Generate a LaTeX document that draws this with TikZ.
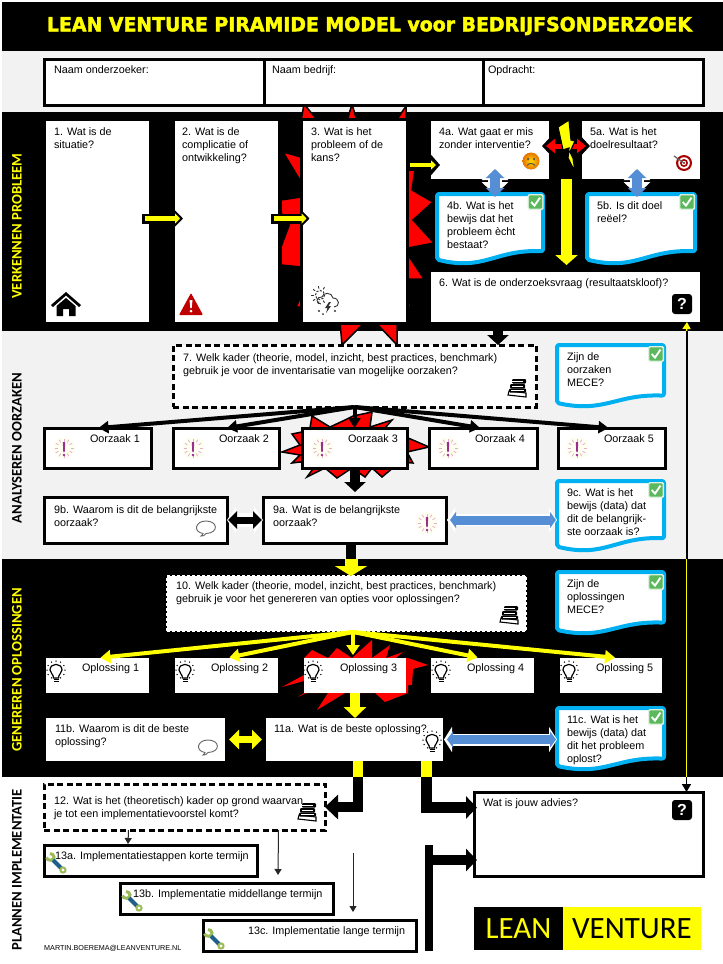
\documentclass[tikz,border=0pt]{standalone}
\usepackage{fontspec}
\usepackage{graphicx}
\usetikzlibrary{arrows.meta,calc}
\setmainfont{Liberation Sans}
\newfontfamily\titlefont[BoldFeatures={FakeBold=2.2}]{DejaVu Sans}
\newfontfamily\sidefont{Carlito}
\definecolor{band}{HTML}{F2F2F2}
\definecolor{vy}{HTML}{FFFF00}
\definecolor{docblue}{HTML}{00B0F0}
\definecolor{arrblue}{HTML}{558ED5}
\definecolor{chk}{HTML}{5CB85C}
\definecolor{exray}{HTML}{DDB0D0}
\definecolor{exmark}{HTML}{9B2D8B}
\definecolor{wgreen}{HTML}{9BBB59}
\definecolor{wblue}{HTML}{1F5F8B}
\hbadness=10000 \vbadness=10000 \hfuzz=50pt \vfuzz=50pt
% #1 style #2 name #3..#6 box #7 padx #8 pady #9 text
\newcommand{\bx}[9][]{%
 \pgfmathsetlengthmacro\bw{(#5-#3)*1pt}\pgfmathsetlengthmacro\bh{(#6-#4)*1pt}%
 \pgfmathsetlengthmacro\bp{(#8+3.5)*1pt}%
 \node[inner sep=0pt,outer sep=0pt,anchor=north west,#1] (#2) at (#3,#4)
 {\parbox[c][\bh][t]{\bw}{\raggedright\leftskip=#7pt\fontsize{10.8}{13}\selectfont\vspace*{\bp}#9}};}
% wave-bottomed document
\newcommand{\docb}[6]{%
 \draw[docblue,fill=white,line width=4pt,line join=round,rounded corners=2pt]
  (#2,#3) -- (#4,#3) -- ({#4},{#5-0.17*(#5-#3)})
  .. controls ({#4-0.45*(#4-#2)},{#5-0.2*(#5-#3)}) and ({#2+0.45*(#4-#2)},{#5+0.12*(#5-#3)}) .. ({#2},{#5-0.05*(#5-#3)}) -- cycle;
 \bx{#1}{#2}{#3}{#4}{#5}{10}{4}{#6}}
\tikzset{
 wbox/.style={fill=white},
 bbox/.style={fill=white,draw=black,line width=3pt},
 dbox/.style={fill=white,draw=black,line width=3pt,dash pattern=on 6pt off 3.5pt},
 wdbox/.style={fill=white,draw=white,line width=2.6pt,dash pattern=on 3pt off 2pt},
 side/.style={rotate=90,font=\sidefont\bfseries\fontsize{14.6}{15}\selectfont,inner sep=0pt},
 fanb/.style={draw=black,line width=4pt,-{Triangle[width=12pt,length=10pt]}},
 fany/.style={draw=vy,line width=4pt,-{Triangle[width=13pt,length=10pt]},shorten >=3pt},
 thin arr/.style={draw=black!85,line width=1pt,-{Triangle[width=7pt,length=6pt]}},
 checkicon/.pic={
  \fill[white!80!chk,rounded corners=1.5pt] (-8,-8) rectangle (8,8);
  \fill[chk,rounded corners=1pt] (-6.6,-6.6) rectangle (6.6,6.6);
  \draw[white,line width=1.9pt] (-4.3,0) -- (-1,3.6) -- (4.5,-4.4);},
 qicon/.pic={
  \fill[black,rounded corners=3pt] (-10,-10) rectangle (10,10);
  \node[white,inner sep=0pt,font=\bfseries\fontsize{16}{16}\selectfont] (-q) at (0,0) {?};},
 homeicon/.pic={
  \fill (-15,1)--(0,-12)--(15,1)--(13,3)--(0,-8.5)--(-13,3)--cycle;
  \fill (-9.5,2)--(0,-6)--(9.5,2)--(9.5,12)--(3,12)--(3,5)--(-3,5)--(-3,12)--(-9.5,12)--cycle;},
 warnicon/.pic={
  \fill[red!75!black,rounded corners=1pt] (0,-12)--(12,10)--(-12,10)--cycle;
  \fill[white] (-1.5,-5)--(1.5,-5)--(0.7,3)--(-0.7,3)--cycle;
  \fill[white] (0,6) circle (1.5);},
 stormicon/.pic={
  \draw[black!80,line width=.9pt,fill=white] (-6,3) .. controls (-12,3) and (-11,-5) .. (-5,-4) .. controls (-4,-9) and (5,-9) .. (6,-3) .. controls (13,-3) and (13,6) .. (7,6);
  \draw[black!80,line width=1pt,dash pattern=on 2pt off 1.5pt] (-7,-6) circle (4.6);
  \foreach \a in {100,140,180,220,260,60,300}{\draw[black!80,line width=.9pt] ({-7+6.5*cos(\a)},{-6+6.5*sin(\a)}) -- ({-7+9*cos(\a)},{-6+9*sin(\a)});}
  \fill[black!80] (2,1)--(-2,7)--(0.5,7)--(-1,12)--(4,5)--(1.5,5)--(4,1)--cycle;
  \fill[black!80] (-8,10) circle (1.2) (8,10) circle (1.2) (-4,13) circle (1);},
 sadicon/.pic={
  \shade[inner color=yellow!70!orange,outer color=orange!90!black] (0,0) circle (8.5);
  \fill[black!70] (-3,-2) ellipse (1 and 1.5) (3,-2) ellipse (1 and 1.5);
  \draw[black!70,line width=.9pt] (-4,4.5) .. controls (-2,1.8) and (2,1.8) .. (4,4.5);},
 targeticon/.pic={
  \fill[red!65!black] (1,1) circle (8);
  \fill[white] (1,1) circle (5.8);
  \fill[red!65!black] (1,1) circle (4);
  \fill[white] (1,1) circle (2.2);
  \fill[red!65!black] (1,1) circle (1);
  \draw[black!60,line width=1.3pt] (1,1) -- (-9,-6);},
 bookicon/.pic={
  \fill[black,rounded corners=1pt] (-5,-9) rectangle (9,-4.5);
  \fill[black,rounded corners=1pt] (-7,-4) rectangle (8,0.5);
  \draw[black,fill=white,line width=1.1pt] (-9,7) -- (9,9) -- (9,5) -- (-8,3) -- cycle;
  \fill[black,rounded corners=1pt] (-8,0.5) rectangle (9,4.5);
  \draw[white,line width=.5pt] (-5,-7) -- (6,-7) (-5,-2) -- (6,-2) (-6,2.5) -- (7,2.5);},
 exclicon/.pic={
  \fill[yellow!6!white] (0,0) circle (11);
  \foreach \a in {0,30,...,330}{\draw[exray,line width=.8pt] ({6.5*cos(\a)},{6.5*sin(\a)}) -- ({9.5*cos(\a)},{9.5*sin(\a)});}
  \fill[exmark] (-1.2,-6)--(1.2,-6)--(.7,4)--(-.7,4)--cycle;
  \fill[exmark] (0,7) circle (1.3);},
 speechicon/.pic={
  \draw[black!60,line width=.9pt,fill=white] (-3,5.5) .. controls (-13,4) and (-11,-7) .. (0,-7) .. controls (12,-7) and (13,5) .. (0,5.5) .. controls (-1,8) and (-3,8) .. (-5,8) .. controls (-4,7) and (-3,6.5) .. (-3,5.5) -- cycle;},
 bulbicon/.pic={
  \draw[black,line width=1.2pt,fill=white] (-2.5,5) .. controls (-2.5,1) and (-6,0) .. (-6,-3) .. controls (-6,-10.5) and (6,-10.5) .. (6,-3) .. controls (6,0) and (2.5,1) .. (2.5,5) -- cycle;
  \draw[black,line width=1.6pt] (-2.5,6.5) -- (2.5,6.5) (-2.5,8.5) -- (2.5,8.5);
  \foreach \a in {0,30,...,330}{\fill[black] ({9*cos(\a)},{-3+9*sin(\a)}) circle (.75);}},
 wrenchicon/.pic={
  \draw[wgreen,line width=3pt] (-9.5,-5.5) .. controls (-9,-1.5) and (-1.5,-2) .. (-2,-6) .. controls (-2,-8) and (-4,-9.5) .. (-6,-9.5);
  \draw[wblue,line width=4pt] (-3,-3) -- (5,5);
  \draw[wgreen,line width=2pt,fill=white] (7,7) circle (2.6);},
}
\begin{document}
\begin{tikzpicture}[x=1pt,y=-1pt]
\useasboundingbox (0,0) rectangle (723,964);
\fill[white] (0,0) rectangle (723,964);
\fill[black] (2,2) rectangle (723,51);
\fill[band] (2,51) rectangle (723,112);
\fill[black] (2,112) rectangle (723,331);
\fill[band] (2,331) rectangle (723,559);
\fill[black] (2,559) rectangle (723,777);

\node[inner sep=0pt,vy] (title) at (369.5,26) {\resizebox{645pt}{14.5pt}{\titlefont\bfseries LEAN VENTURE PIRAMIDE MODEL voor BEDRIJFSONDERZOEK}};

\node[side,vy] (s1) at (17,226) {VERKENNEN PROBLEEM};
\node[side,black] (s2) at (17,448) {ANALYSEREN OORZAKEN};
\node[side,vy] (s3) at (17,670) {GENEREREN OPLOSSINGEN};
\node[side,black] (s4) at (17,870) {PLANNEN IMPLEMENTATIE};

% red stars
\filldraw[red,draw=black,line width=1.5pt,line join=miter]
 (304,104)--(318,121)--(347,121)--(352,104)--(357,121)--(396,121)--(406,106)--(406,121)--(408,170)--(415,170)--(412,190)--(433,202)--(413,220)--(434,243)--(408,248)--(408,255)--(424,279)--(408,279)--(408,302)--(411,305)--(397,322)--(397,345)--(378,325)--(362,325)--(342,345)--(340,322)--(301,307)--(296,307)--(301,296)--(301,267)--(281,265)--(281,247)--(290,223)--(281,213)--(281,200)--(301,197)--(301,182)--(283,152)--(301,157)--(301,121)--cycle;
\filldraw[red,draw=black,line width=1.5pt]
 (312,416)--(330,427)--(345,420)--(353,416)--(372,412)--(370,427)--(392,420)--(385,428)--(429,447)--(407,452)--(413,463)--(400,462)--(382,477)--(372,468)--(365,477)--(352,468)--(337,478)--(325,468)--(307,477)--(315,466)--(300,462)--(292,463)--(300,455)--(282,452)--(300,445)--(292,434)--(302,432)--(310,428)--cycle;
\fill[red] (312,650)--(328,658)--(337,648)--(352,658)--(372,640)--(372,658)--(390,645)--(386,658)--(403,652)--(396,658)--(408,658)--(428,665)--(413,669)--(412,685)--(408,685)--(408,693)--(385,702)--(375,693)--(345,693)--(317,710)--(328,693)--(306,693)--(298,697)--(304,693)--(304,681)--(282,687)--(304,675)--(304,658)--cycle;

% header
\bx[bbox]{h1}{44}{59}{264}{105}{10}{3}{Naam onderzoeker:}
\bx[bbox]{h2}{264}{59}{483}{105}{8}{3}{Naam bedrijf:}
\bx[bbox]{h3}{483}{59}{703}{105}{5}{3}{Opdracht:}

% section 1
\bx[wbox]{b1}{46}{121}{149}{322}{8}{3}{1. Wat is de\\situatie?}
\bx[wbox]{b2}{175}{121}{278}{322}{7}{3}{2. Wat is de\\complicatie of\\ontwikkeling?}
\bx[bbox]{b3}{301.5}{119.5}{407.5}{323.5}{9.5}{4.5}{3. Wat is het\\probleem of de\\kans?}
\bx[wbox]{a4}{431}{121}{549}{179}{8}{3}{4a. Wat gaat er mis\\zonder interventie?}
\bx[wbox]{a5}{582}{121}{700}{179}{8}{3}{5a. Wat is het\\doelresultaat?}
\docb{b4}{437}{194}{543}{263}{4b. Wat is het\\bewijs dat het\\probleem \`echt\\bestaat?}
\docb{b5}{587}{194}{695}{263}{5b. Is dit doel\\re\"eel?}
\bx[wbox]{q6}{431}{272}{700}{322}{8}{3}{6. Wat is de onderzoeksvraag (resultaatskloof)?}

% section 2
\bx[dbox]{seven}{173}{345}{536}{407}{10}{5}{7. Welk kader (theorie, model, inzicht, best practices, benchmark)\\gebruik je voor de inventarisatie van mogelijke oorzaken?}
\docb{m1}{557}{345}{664}{406}{Zijn  de\\oorzaken\\MECE?}
\bx[bbox]{o1}{44}{428}{151}{468}{46}{3}{Oorzaak 1}
\bx[bbox]{o2}{173}{428}{279}{468}{46}{3}{Oorzaak 2}
\bx[bbox]{o3}{302}{428}{407}{468}{46}{3}{Oorzaak 3}
\bx[bbox]{o4}{429}{428}{537}{468}{46}{3}{Oorzaak 4}
\bx[bbox]{o5}{558}{428}{665}{468}{46}{3}{Oorzaak 5}
\bx[bbox]{w9b}{44}{497}{227}{543}{10}{5}{9b. Waarom is dit de belangrijkste\\oorzaak?}
\bx[bbox]{w9a}{263}{497}{446}{543}{10}{5}{9a. Wat is de belangrijkste\\oorzaak?}
\docb{w9c}{557}{481}{664}{550}{9c. Wat is het\\bewijs (data) dat\\dit de belangrijk-\\ste oorzaak is?}

% section 3
\bx[wdbox]{ten}{167}{576}{526}{631}{9}{2}{10. Welk kader (theorie, model, inzicht, best practices, benchmark)\\gebruik je voor het genereren van opties voor oplossingen?}
\docb{m2}{557}{572}{664}{633}{Zijn  de\\oplossingen\\MECE?}
\bx[wbox]{s1b}{46}{658}{149}{693}{36}{2}{Oplossing 1}
\bx[wbox]{s2b}{175}{658}{278}{693}{36}{2}{Oplossing 2}
\bx[wbox]{s3b}{304}{658}{406}{693}{36}{2}{Oplossing 3}
\bx[wbox]{s4b}{431}{658}{534}{693}{36}{2}{Oplossing 4}
\bx[wbox]{s5b}{560}{658}{662}{693}{36}{2}{Oplossing 5}
\bx[wbox]{w11b}{46}{718}{225}{761}{9}{3}{11b. Waarom is dit de beste\\oplossing?}
\bx[wbox]{w11a}{266}{718}{443}{761}{8}{3}{11a. Wat is de beste oplossing?}
\docb{w11c}{557}{708}{664}{769}{11c. Wat is het\\bewijs (data) dat\\dit het probleem\\oplost?}

% section 4
\bx[dbox]{twelve}{44}{784}{325}{830}{10}{9}{12. Wat is het (theoretisch) kader op grond  waarvan\\je tot een implementatievoorstel komt?}
\bx[bbox]{i13a}{44}{845}{257}{876}{11}{3}{13a. Implementatiestappen korte termijn}
\bx[bbox]{i13b}{120}{883}{333}{914}{13}{3}{13b. Implementatie middellange termijn}
\bx[bbox]{i13c}{203}{920}{416}{951}{45}{3}{13c. Implementatie lange termijn}
\bx[bbox]{advice}{474}{792}{703}{876}{9}{3}{Wat is jouw advies?}
\node[anchor=west,inner sep=0pt,font=\fontsize{7.2}{8}\selectfont] (mail) at (44,948) {MARTIN.BOEREMA@LEANVENTURE.NL};

% logo
\node[fill=black,text=vy,minimum width=89pt,minimum height=43pt,inner sep=0pt,outer sep=0pt,anchor=north west,font=\sidefont\fontsize{31}{31}\selectfont] (lean) at (474,907) {LEAN};
\node[fill=vy,text=black,minimum width=138pt,minimum height=43pt,inner sep=0pt,outer sep=0pt,anchor=north west,font=\sidefont\fontsize{31}{31}\selectfont] (venture) at (563,907) {VENTURE};

% icons
\path (66,304) pic[black] {homeicon};
\path (191,305) pic {warnicon};
\path (327,301) pic {stormicon};
\path (531,161) pic {sadicon};
\path (683,162) pic {targeticon};
\path (682,304) pic {qicon};
\path (682,810) pic {qicon};
\foreach \p in {(535.5,202),(687,202),(656,354),(656,490),(656,582),(656,717)} {\path \p pic {checkicon};}
\foreach \p in {(517,388),(509,615),(307,812)} {\path \p pic {bookicon};}
\foreach \p in {(64,448),(193,448),(322,448),(448,448),(577,448),(427,523)} {\path \p pic {exclicon};}
\path (206,528) pic {speechicon};
\path (208,747) pic {speechicon};
\foreach \p in {(56,673),(185,673),(313,673),(441,673),(569,673),(432,743)} {\path \p pic {bulbicon};}
\foreach \p in {(56,863),(132,901),(214,939)} {\path \p pic {wrenchicon};}

% level helpers
\coordinate (y165) at (0,165);
\coordinate (y146) at (0,146);
% yellow outlined arrows
\foreach \a/\b in {b1/b2,b2/b3}{
 \draw[black,line width=10pt,-{Triangle[width=18pt,length=9pt]}] ([xshift=-7pt,yshift=3pt]\a.east) -- ([xshift=8pt,yshift=3pt]\b.west);
 \draw[vy,line width=4.5pt,-{Triangle[width=10pt,length=5pt]}] ([xshift=-4pt,yshift=3pt]\a.east) -- ([xshift=5pt,yshift=3pt]\b.west);
}
\coordinate (p34) at (b3.east |- y165);
\coordinate (p34e) at (a4.west |- y165);
\draw[black,line width=9pt,-{Triangle[width=20pt,length=9pt]}] (p34) -- ([xshift=9pt]p34e);
\draw[vy,line width=4pt,-{Triangle[width=9pt,length=5pt]}] ([xshift=2pt]p34) -- ([xshift=5pt]p34e);

% red arrow and lightning
\coordinate (rl) at (a4.east |- y146);
\coordinate (rr) at (a5.west |- y146);
\draw[black,line width=10pt,{Triangle[width=25pt,length=12pt]}-{Triangle[width=25pt,length=12pt]}] ([xshift=-7pt]rl) -- ([xshift=8pt]rr);
\draw[red,line width=5pt,{Triangle[width=14pt,length=9pt]}-{Triangle[width=14pt,length=9pt]}] ([xshift=-3pt]rl) -- ([xshift=4pt]rr);
\filldraw[vy,draw=black,line width=1.2pt] (558,127)--(569,120)--(571,140)--(575,141)--(570,152)--(573,158)--(575,172)--(568,158)--(569,148)--(563,150)--cycle;
\coordinate (ytop) at (566.5,179);
\draw[vy,line width=11pt,-{Triangle[width=22pt,length=10pt]}] (ytop) -- ([yshift=7pt]ytop |- q6.north);

% blue arrows
\foreach \a/\b/\dx in {a4/b4/5,a5/b5/-4}{
 \draw[white,line width=14pt,{Triangle[width=26pt,length=13pt]}-{Triangle[width=26pt,length=13pt]}] ([xshift=\dx pt,yshift=12pt]\a.south) -- ([xshift=\dx pt,yshift=-1pt]\b.north);
 \draw[arrblue,line width=10pt,{Triangle[width=18pt,length=9pt]}-{Triangle[width=18pt,length=9pt]}] ([xshift=\dx pt,yshift=10pt]\a.south) -- ([xshift=\dx pt,yshift=-3pt]\b.north);
}
\foreach \a/\b in {w9a/w9c,w11a/w11c}{
 \draw[white,line width=12pt,{Triangle[width=25pt,length=8pt]}-{Triangle[width=25pt,length=8pt]}] ([xshift=1pt]\a.east) -- (\b.west |- \a.east);
 \draw[arrblue,line width=9pt,{Triangle[width=16pt,length=6pt]}-{Triangle[width=16pt,length=6pt]}] ([xshift=4pt]\a.east) -- ([xshift=-1pt]\b.west |- \a.east);
}
% 6 -> 7
\coordinate (c67) at (498,322);
\draw[black,line width=10pt,-{Triangle[width=21pt,length=10pt]}] (c67) -- (c67 |- seven.north);
% fan of causes
\draw[fanb] (seven.south) -- ([xshift=1pt]o1.north);
\draw[fanb] (seven.south) -- ([xshift=1pt]o2.north);
\draw[fanb] (seven.south) -- (o3.north);
\draw[fanb] (seven.south) -- ([xshift=-3pt]o4.north);
\draw[fanb] (seven.south) -- ([xshift=-3pt]o5.north);
% 8 -> 9a
\coordinate (c89) at (355,468);
\draw[black,line width=10pt,-{Triangle[width=21pt,length=10pt]}] (c89) -- ([yshift=5pt]c89 |- w9a.north);
\draw[white,line width=14pt,{Triangle[width=26pt,length=9pt]}-{Triangle[width=26pt,length=9pt]}] (w9b.east) -- (w9a.west);
\draw[black,line width=7pt,{Triangle[width=17pt,length=9pt]}-{Triangle[width=17pt,length=9pt]}] ([xshift=1pt]w9b.east) -- ([xshift=-1pt]w9a.west);
% 9a -> 10
\coordinate (c910) at (351,543);
\coordinate (c910b) at (351,559);
\draw[black,line width=10pt] (c910) -- (c910b);
\draw[vy,line width=13pt,-{Triangle[width=32pt,length=10pt]}] (c910b) -- (c910b |- ten.north);
% fan of solutions
\coordinate (c10s) at (353,632);
\draw[fany] (c10s) -- (s1b.north);
\draw[fany] (c10s) -- (s2b.north);
\draw[fany] (c10s) -- ([xshift=-2pt]s3b.north);
\draw[fany] (c10s) -- ([xshift=-2pt]s4b.north);
\draw[fany] (c10s) -- ([xshift=7pt]s5b.north);
% solution -> 11a
\coordinate (cs11) at (355,693);
\draw[vy,line width=10pt,-{Triangle[width=22pt,length=11pt]}] (cs11) -- (cs11 |- w11a.north);
\draw[vy,line width=7pt,{Triangle[width=19pt,length=10pt]}-{Triangle[width=19pt,length=10pt]}] ([xshift=4pt]w11b.east) -- ([xshift=-4pt]w11a.west);
% 11a -> 12 and advice
\coordinate (c1112) at (358,761);
\draw[black,line width=10.5pt,-{Triangle[width=24pt,length=13pt]}] (c1112) -- (358,807) -- ([yshift=0pt]twelve.east);
\draw[vy,line width=10.5pt] (c1112) -- (358,777);
\coordinate (c11a) at (426.5,761);
\draw[black,line width=10.5pt,-{Triangle[width=22pt,length=11pt]}] (c11a) -- (426.5,807.5) -- ([xshift=3pt,yshift=26.5pt]advice.west);
\draw[vy,line width=10.5pt] (c11a) -- (426.5,777);
% implementation collector
\coordinate (impt) at (429,845);
\coordinate (impb) at (429,951);
\draw[black,line width=8pt] (impt) -- (impb);
\coordinate (impm) at (429,860);
\draw[black,line width=10pt,-{Triangle[width=22pt,length=11pt]}] (impm) -- ([xshift=3pt,yshift=-26pt]advice.west);
% 12 -> 13
\draw[thin arr] ([xshift=-56pt]twelve.south) -- (128,844);
\draw[thin arr] ([xshift=94pt]twelve.south) -- (278,875);
\coordinate (t13c) at (353,853);
\draw[thin arr] (t13c) -- (353,912);
% long double arrow
\draw[black,line width=2pt] (686.5,331) -- (686.5,559);
\draw[vy,line width=1.5pt] (686.5,559) -- (686.5,777);
\draw[vy,line width=1.5pt,{Triangle[width=8pt,length=7pt]}-] ([xshift=121.5pt]q6.south) -- (686.5,331);
\draw[black,line width=1.5pt,-{Triangle[width=9pt,length=8pt]}] (686.5,777) -- ([xshift=98pt]advice.north);
\end{tikzpicture}
\end{document}
